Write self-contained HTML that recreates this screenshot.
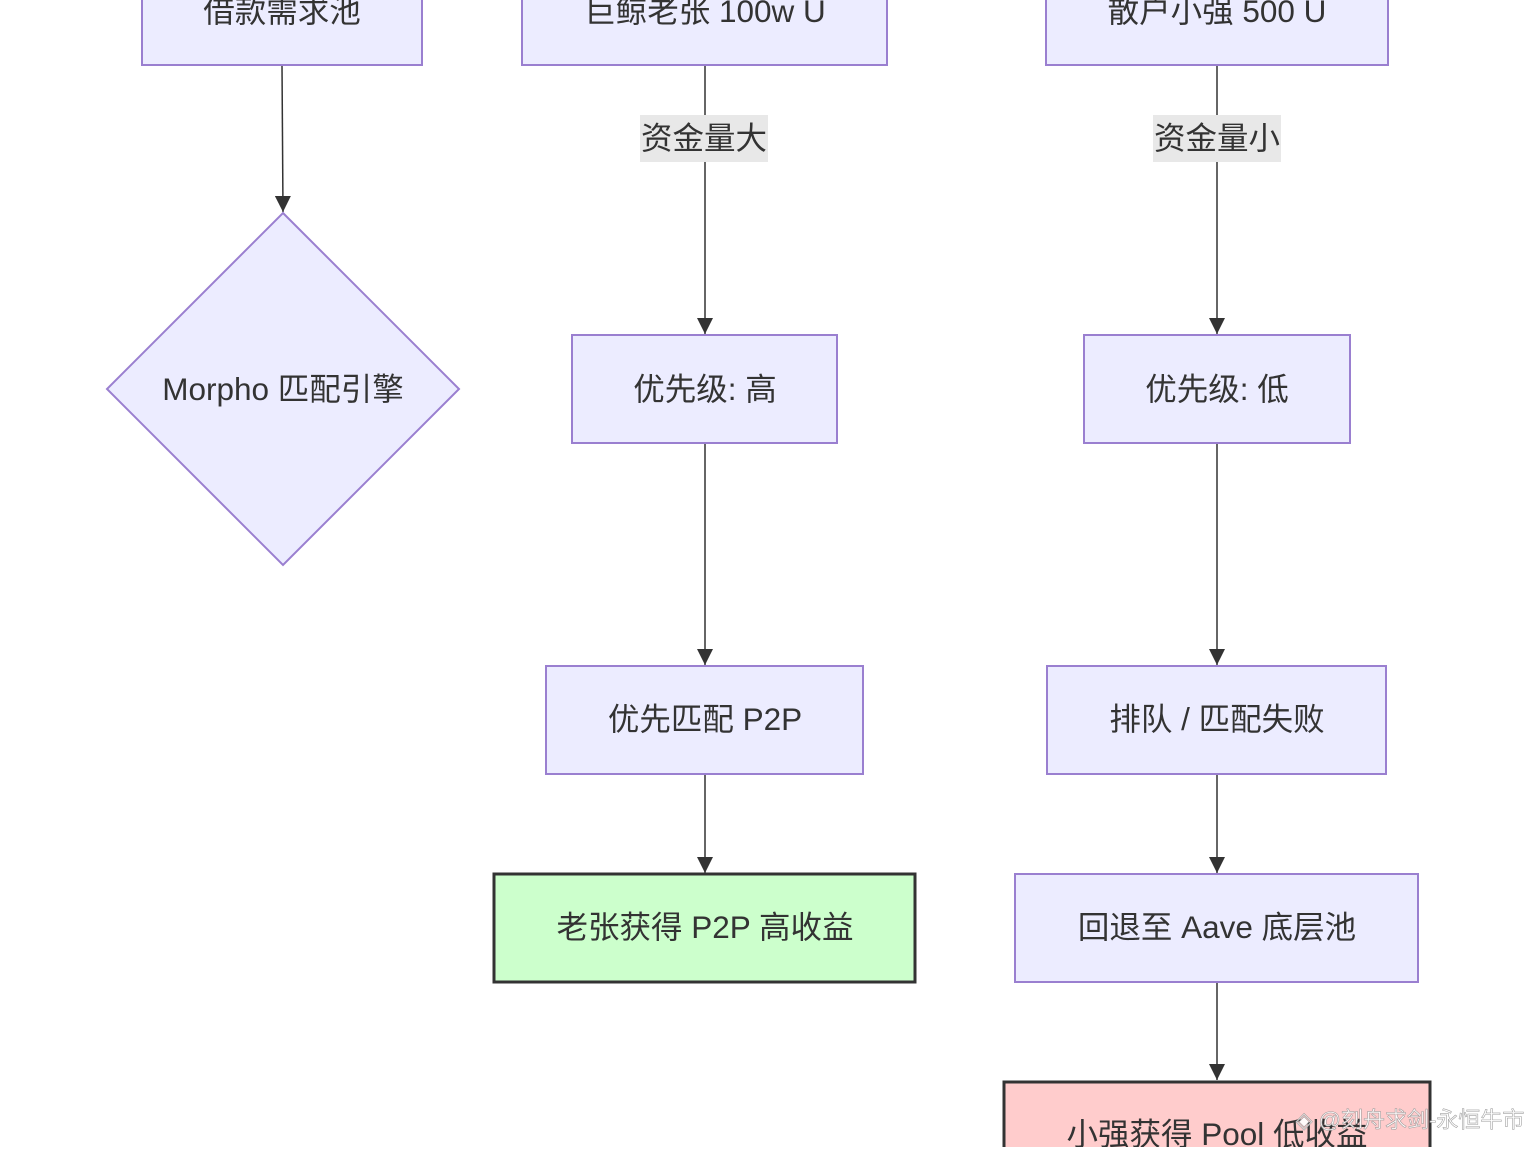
<!DOCTYPE html>
<html><head><meta charset="utf-8"><style>
html,body{margin:0;padding:0;background:#fff;}
svg text{font-family:"Liberation Sans","Noto Sans CJK SC",sans-serif;font-size:31.5px;fill:#333;text-anchor:middle;dominant-baseline:central;}
</style></head><body>
<svg width="1536" height="1147" viewBox="0 0 1536 1147" xmlns="http://www.w3.org/2000/svg">
<defs>
<marker id="b" viewBox="0 0 10 10" refX="10" refY="5" markerWidth="16" markerHeight="16" orient="auto" markerUnits="userSpaceOnUse"><path d="M0,0L10,5L0,10z" fill="#333"/></marker></defs>
<g stroke="#333" stroke-width="1.5" fill="none">
<line x1="282" y1="65" x2="283" y2="212" marker-end="url(#b)"/>
<line x1="705" y1="65" x2="705" y2="334" marker-end="url(#b)"/>
<line x1="1217" y1="65" x2="1217" y2="334" marker-end="url(#b)"/>
<line x1="705" y1="443" x2="705" y2="665" marker-end="url(#b)"/>
<line x1="1217" y1="443" x2="1217" y2="665" marker-end="url(#b)"/>
<line x1="705" y1="774" x2="705" y2="873" marker-end="url(#b)"/>
<line x1="1217" y1="774" x2="1217" y2="873" marker-end="url(#b)"/>
<line x1="1217" y1="982" x2="1217" y2="1080" marker-end="url(#b)"/>
</g>
<g fill="#ECECFF" stroke="#9a7fd0" stroke-width="2">
<rect x="142" y="-43" width="280" height="108"/>
<rect x="522" y="-43" width="365" height="108"/>
<rect x="1046" y="-43" width="342" height="108"/>
<polygon points="283,213 459,389 283,565 107,389"/>
<rect x="572" y="335" width="265" height="108"/>
<rect x="1084" y="335" width="266" height="108"/>
<rect x="546" y="666" width="317" height="108"/>
<rect x="1047" y="666" width="339" height="108"/>
<rect x="1015" y="874" width="403" height="108"/>
</g>
<rect x="494" y="874" width="421" height="108" fill="#ccffcc" stroke="#333" stroke-width="3"/>
<rect x="1004" y="1082" width="426" height="108" fill="#ffcccc" stroke="#333" stroke-width="3"/>
<rect x="640" y="115" width="128" height="47" fill="#e8e8e8"/>
<rect x="1153" y="115" width="128" height="47" fill="#e8e8e8"/>
<text x="282" y="11">借款需求池</text>
<text x="705" y="11">巨鲸老张 100w U</text>
<text x="1217" y="11">散户小强 500 U</text>
<text x="704" y="138">资金量大</text>
<text x="1217" y="138">资金量小</text>
<text x="283" y="389">Morpho 匹配引擎</text>
<text x="705" y="389">优先级: 高</text>
<text x="1217" y="389">优先级: 低</text>
<text x="705" y="719">优先匹配 P2P</text>
<text x="1217" y="719">排队 / 匹配失败</text>
<text x="705" y="927">老张获得 P2P 高收益</text>
<text x="1217" y="927">回退至 Aave 底层池</text>
<text x="1217" y="1134">小强获得 Pool 低收益</text>
<text x="1410" y="1120" style="font-size:22px;fill:#fff;stroke:#999;stroke-width:0.6;opacity:0.9">◈ @刻舟求剑-永恒牛市</text>
</svg>
</body></html>
